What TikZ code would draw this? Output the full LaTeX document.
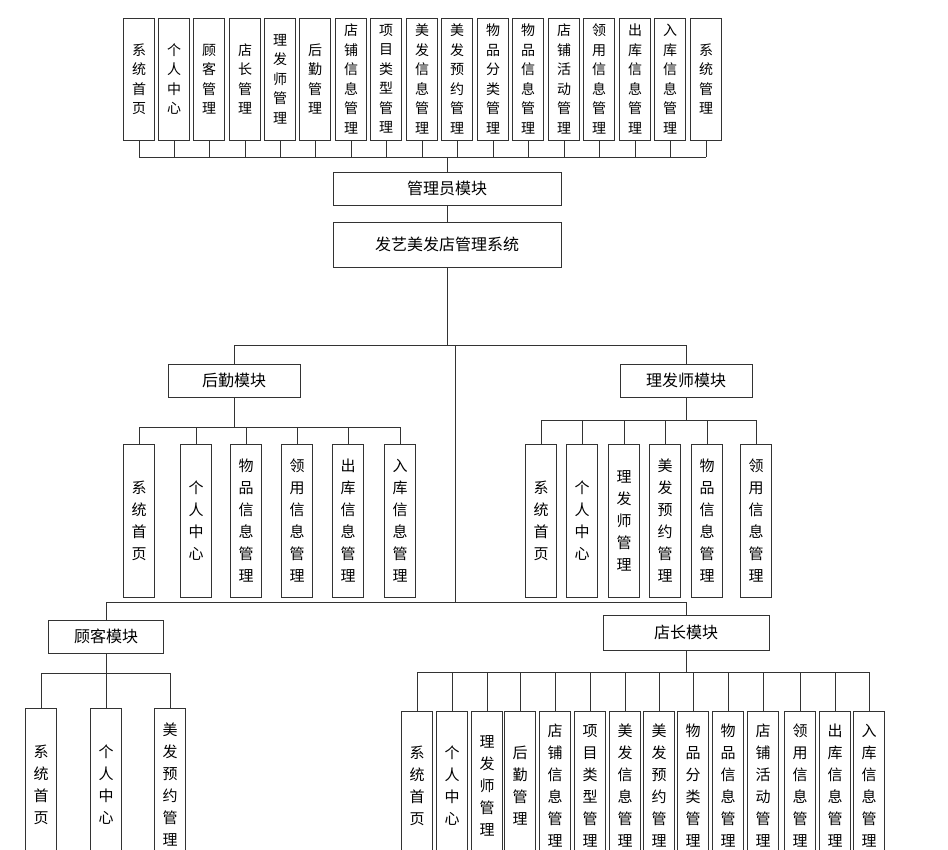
\documentclass[tikz,border=0pt]{standalone}
\usepackage{fontspec}
\setmainfont{Noto Sans CJK SC}
\begin{document}
\begin{tikzpicture}[x=1pt,y=-1pt,
 line/.style={draw=black!80,line width=0.9pt},
 vb/.style={draw=black!80,line width=0.9pt,fill=white,minimum width=31pt,inner sep=0pt,align=center,font=\fontsize{15}{22}\selectfont},
 hb/.style={draw=black!80,line width=0.9pt,fill=white,inner sep=0pt,font=\fontsize{16}{20}\selectfont}]
\useasboundingbox (0,0) rectangle (948,849);
\clip (0,0) rectangle (948,849);
% top row
\foreach \x/\t [count=\i] in {139/系\\统\\首\\页,174/个\\人\\中\\心,209/顾\\客\\管\\理,245/店\\长\\管\\理,280/理\\发\\师\\管\\理,315/后\\勤\\管\\理,351/店\\铺\\信\\息\\管\\理,386/项\\目\\类\\型\\管\\理,422/美\\发\\信\\息\\管\\理,457/美\\发\\预\\约\\管\\理,493/物\\品\\分\\类\\管\\理,528/物\\品\\信\\息\\管\\理,564/店\\铺\\活\\动\\管\\理,599/领\\用\\信\\息\\管\\理,635/出\\库\\信\\息\\管\\理,670/入\\库\\信\\息\\管\\理,706/系\\统\\管\\理}{
 \node[vb,minimum height=122pt,font=\fontsize{14}{19.5}\selectfont] (t\i) at (\x,79) {\t};
 \draw[line] (t\i.south) -- (\x,157);
}
\draw[line] (139,157) -- (706,157);
\node[hb,minimum width=228pt,minimum height=33pt] (adm) at (447,188.5) {管理员模块};
\node[hb,minimum width=228pt,minimum height=45pt] (sys) at (447,244.5) {发艺美发店管理系统};
\draw[line] (adm.north) -- (447,157);
\draw[line] (adm.south) -- (sys.north);
\coordinate (j1) at (447,345);
\draw[line] (sys.south) -- (j1);
\draw[line] (234,345) -- (686,345);
\draw[line] (455,345) -- (455,602);
\draw[line] (106,602) -- (686,602);
% 后勤
\node[hb,minimum width=132pt,minimum height=33pt] (hq) at (234,380.5) {后勤模块};
\draw[line] (234,345) -- (hq.north);
\draw[line] (hq.south) -- (234,427);
\draw[line] (139,427) -- (400,427);
\foreach \x/\t [count=\i] in {139/系\\统\\首\\页,196/个\\人\\中\\心,246/物\\品\\信\\息\\管\\理,297/领\\用\\信\\息\\管\\理,348/出\\库\\信\\息\\管\\理,400/入\\库\\信\\息\\管\\理}{
 \node[vb,minimum height=153pt] (h\i) at (\x,520.5) {\t};
 \draw[line] (\x,427) -- (h\i.north);
}
% 理发师
\node[hb,minimum width=132pt,minimum height=33pt] (lf) at (686,380.5) {理发师模块};
\draw[line] (686,345) -- (lf.north);
\draw[line] (lf.south) -- (686,420);
\draw[line] (541,420) -- (756,420);
\foreach \x/\t [count=\i] in {541/系\\统\\首\\页,582/个\\人\\中\\心,624/理\\发\\师\\管\\理,665/美\\发\\预\\约\\管\\理,707/物\\品\\信\\息\\管\\理,756/领\\用\\信\\息\\管\\理}{
 \node[vb,minimum height=153pt] (l\i) at (\x,520.5) {\t};
 \draw[line] (\x,420) -- (l\i.north);
}
% 顾客
\node[hb,minimum width=115pt,minimum height=33pt] (gk) at (106,636.5) {顾客模块};
\draw[line] (106,602) -- (gk.north);
\draw[line] (gk.south) -- (106,673);
\draw[line] (41,673) -- (170,673);
\foreach \x/\t [count=\i] in {41/系\\统\\首\\页,106/个\\人\\中\\心,170/美\\发\\预\\约\\管\\理}{
 \node[vb,minimum height=153pt] (g\i) at (\x,784.5) {\t};
 \draw[line] (\x,673) -- (g\i.north);
}
% 店长
\node[hb,minimum width=166pt,minimum height=35pt] (dz) at (686,632.5) {店长模块};
\draw[line] (686,602) -- (dz.north);
\draw[line] (dz.south) -- (686,672);
\draw[line] (417,672) -- (869,672);
\foreach \x/\t [count=\i] in {417/系\\统\\首\\页,452/个\\人\\中\\心,487/理\\发\\师\\管\\理,520/后\\勤\\管\\理,555/店\\铺\\信\\息\\管\\理,590/项\\目\\类\\型\\管\\理,625/美\\发\\信\\息\\管\\理,659/美\\发\\预\\约\\管\\理,693/物\\品\\分\\类\\管\\理,728/物\\品\\信\\息\\管\\理,763/店\\铺\\活\\动\\管\\理,800/领\\用\\信\\息\\管\\理,835/出\\库\\信\\息\\管\\理,869/入\\库\\信\\息\\管\\理}{
 \node[vb,minimum height=150pt] (d\i) at (\x,786) {\t};
 \draw[line] (\x,672) -- (d\i.north);
}
\end{tikzpicture}
\end{document}
